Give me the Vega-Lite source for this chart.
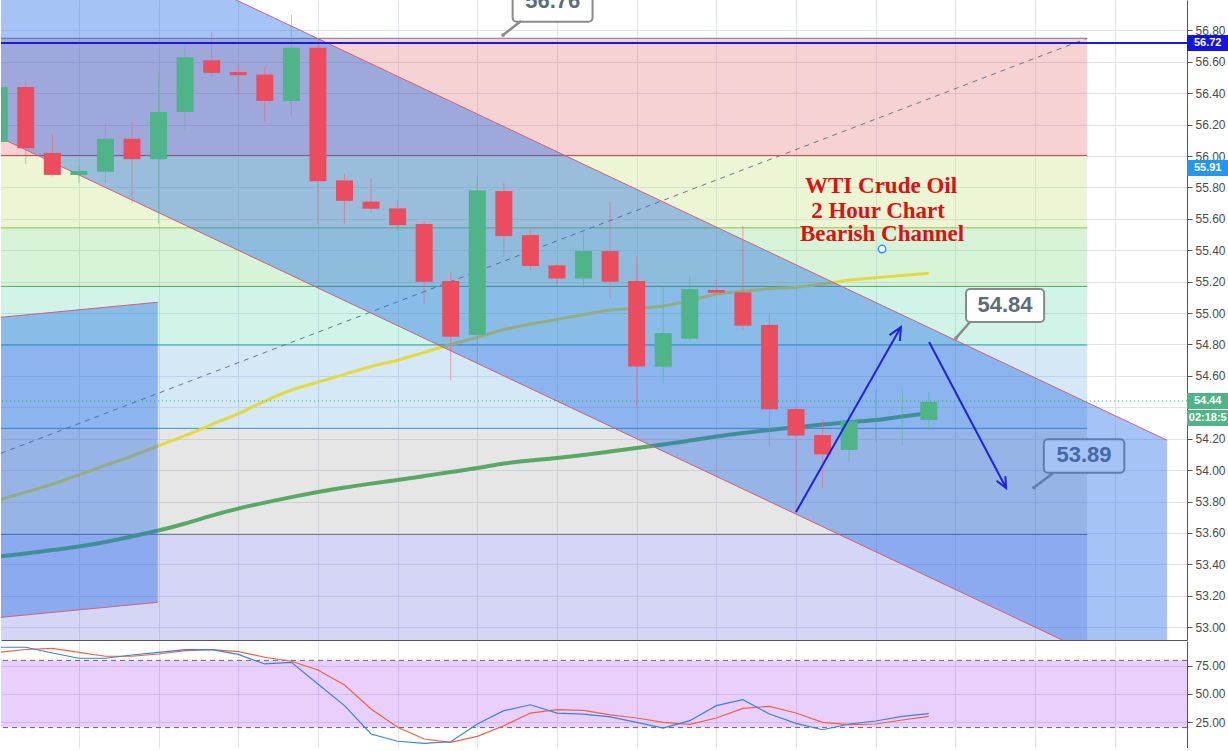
{
  "$schema": "https://vega.github.io/schema/vega-lite/v6.json",
  "background": "white",
  "padding": 0,
  "spacing": 1,
  "config": {
    "view": {"stroke": null},
    "axisX": {"labels": false, "ticks": false, "domain": true, "domainColor": "#555", "grid": true, "gridColor": "#e0e3ea"},
    "axisY": {"labelFont": "Liberation Sans", "labelFontSize": 12, "labelColor": "#4a4a4a", "tickColor": "#555", "tickSize": 5, "domainColor": "#555", "labelPadding": 3, "grid": true, "gridColor": "#e0e3ea", "labelExpr": "datum.value == 54.4 ? '' : datum.label"}
  },
  "resolve": {"scale": {"x": "independent", "y": "independent"}},
  "datasets": {
    "candles": [
      {"i":0,"o":56.09,"h":56.46,"l":56.07,"c":56.44},
      {"i":1,"o":56.44,"h":56.48,"l":55.95,"c":56.05},
      {"i":2,"o":56.02,"h":56.14,"l":55.87,"c":55.88},
      {"i":3,"o":55.88,"h":55.94,"l":55.83,"c":55.905},
      {"i":4,"o":55.9,"h":56.21,"l":55.83,"c":56.11},
      {"i":5,"o":56.11,"h":56.22,"l":55.7,"c":55.98},
      {"i":6,"o":55.98,"h":56.53,"l":55.57,"c":56.28},
      {"i":7,"o":56.28,"h":56.72,"l":56.16,"c":56.63},
      {"i":8,"o":56.61,"h":56.79,"l":56.5,"c":56.53},
      {"i":9,"o":56.535,"h":56.58,"l":56.39,"c":56.515},
      {"i":10,"o":56.52,"h":56.57,"l":56.22,"c":56.35},
      {"i":11,"o":56.35,"h":56.9,"l":56.25,"c":56.69},
      {"i":12,"o":56.69,"h":56.74,"l":55.57,"c":55.84},
      {"i":13,"o":55.845,"h":55.89,"l":55.57,"c":55.715},
      {"i":14,"o":55.71,"h":55.86,"l":55.64,"c":55.665},
      {"i":15,"o":55.667,"h":55.72,"l":55.53,"c":55.56},
      {"i":16,"o":55.567,"h":55.58,"l":55.06,"c":55.2},
      {"i":17,"o":55.204,"h":55.26,"l":54.57,"c":54.85},
      {"i":18,"o":54.86,"h":55.87,"l":54.68,"c":55.78},
      {"i":19,"o":55.777,"h":55.83,"l":55.36,"c":55.49},
      {"i":20,"o":55.497,"h":55.535,"l":55.27,"c":55.3},
      {"i":21,"o":55.304,"h":55.31,"l":55.17,"c":55.22},
      {"i":22,"o":55.22,"h":55.53,"l":55.16,"c":55.395},
      {"i":23,"o":55.395,"h":55.71,"l":55.1,"c":55.2},
      {"i":24,"o":55.204,"h":55.36,"l":54.4,"c":54.66},
      {"i":25,"o":54.658,"h":55.17,"l":54.55,"c":54.873},
      {"i":26,"o":54.837,"h":55.24,"l":54.82,"c":55.153},
      {"i":27,"o":55.147,"h":55.21,"l":55.12,"c":55.13},
      {"i":28,"o":55.132,"h":55.555,"l":54.89,"c":54.92},
      {"i":29,"o":54.924,"h":55.0,"l":54.15,"c":54.387},
      {"i":30,"o":54.389,"h":54.4,"l":53.727,"c":54.22},
      {"i":31,"o":54.223,"h":54.323,"l":53.884,"c":54.1},
      {"i":32,"o":54.128,"h":54.393,"l":54.053,"c":54.314},
      {"i":33,"o":54.32,"h":54.51,"l":54.18,"c":54.32},
      {"i":34,"o":54.34,"h":54.52,"l":54.16,"c":54.34},
      {"i":35,"o":54.319,"h":54.5,"l":54.255,"c":54.435}
    ],
    "ma": [
      {"i":0,"a":53.81,"b":53.45},{"i":1,"a":53.86,"b":53.469},{"i":2,"a":53.91,"b":53.491},
      {"i":3,"a":53.97,"b":53.513},{"i":4,"a":54.03,"b":53.542},{"i":5,"a":54.09,"b":53.577},
      {"i":6,"a":54.155,"b":53.615},{"i":7,"a":54.22,"b":53.66},{"i":8,"a":54.29,"b":53.71},
      {"i":9,"a":54.36,"b":53.755},{"i":10,"a":54.44,"b":53.793},{"i":11,"a":54.51,"b":53.828},
      {"i":12,"a":54.56,"b":53.86},{"i":13,"a":54.61,"b":53.889},{"i":14,"a":54.66,"b":53.914},
      {"i":15,"a":54.7,"b":53.937},{"i":16,"a":54.75,"b":53.962},{"i":17,"a":54.8,"b":53.988},
      {"i":18,"a":54.845,"b":54.013},{"i":19,"a":54.895,"b":54.042},{"i":20,"a":54.93,"b":54.061},
      {"i":21,"a":54.96,"b":54.077},{"i":22,"a":54.99,"b":54.096},{"i":23,"a":55.02,"b":54.118},
      {"i":24,"a":55.03,"b":54.141},{"i":25,"a":55.045,"b":54.163},{"i":26,"a":55.08,"b":54.188},
      {"i":27,"a":55.12,"b":54.214},{"i":28,"a":55.14,"b":54.236},{"i":29,"a":55.155,"b":54.255},
      {"i":30,"a":55.165,"b":54.274},{"i":31,"a":55.185,"b":54.29},{"i":32,"a":55.21,"b":54.306},
      {"i":33,"a":55.225,"b":54.319},{"i":34,"a":55.24,"b":54.341},{"i":35,"a":55.253,"b":54.363}
    ],
    "stoch": [
      {"i":0,"k":91.7,"d":87.2},{"i":1,"k":91.7,"d":89.7},{"i":2,"k":86.6,"d":90.8},
      {"i":3,"k":81.9,"d":87.2},{"i":4,"k":81.9,"d":83.7},{"i":5,"k":84.8,"d":83.7},
      {"i":6,"k":87.2,"d":85.7},{"i":7,"k":89.6,"d":88.7},{"i":8,"k":89.6,"d":89.6},
      {"i":9,"k":85.3,"d":87.8},{"i":10,"k":76.8,"d":82.8},{"i":11,"k":78.3,"d":79.2},
      {"i":12,"k":58.9,"d":71.4},{"i":13,"k":39.6,"d":58.0},{"i":14,"k":14.3,"d":36.6},
      {"i":15,"k":7.8,"d":20.3},{"i":16,"k":6.0,"d":9.8},{"i":17,"k":7.4,"d":6.9},
      {"i":18,"k":23.2,"d":12.2},{"i":19,"k":35.1,"d":21.7},{"i":20,"k":40.4,"d":33.0},
      {"i":21,"k":33.0,"d":36.0},{"i":22,"k":32.1,"d":35.4},{"i":23,"k":29.5,"d":31.3},
      {"i":24,"k":24.7,"d":28.6},{"i":25,"k":19.6,"d":24.7},{"i":26,"k":26.2,"d":22.9},
      {"i":27,"k":39.6,"d":28.6},{"i":28,"k":44.9,"d":37.2},{"i":29,"k":32.1,"d":39.0},
      {"i":30,"k":23.8,"d":33.0},{"i":31,"k":18.1,"d":24.7},{"i":32,"k":23.2,"d":22.6},
      {"i":33,"k":25.9,"d":23.2},{"i":34,"k":30.1,"d":26.8},{"i":35,"k":32.4,"d":30.1}
    ],
    "zones": [
      {"z":"a","top":56.75,"bot":56.004},{"z":"b","top":56.004,"bot":55.543},
      {"z":"c","top":55.543,"bot":55.17},{"z":"d","top":55.17,"bot":54.797},
      {"z":"e","top":54.797,"bot":54.266},{"z":"f","top":54.266,"bot":53.59},
      {"z":"g","top":53.59,"bot":52.73}
    ],
    "levels": [
      {"z":"l0","v":56.75},{"z":"l1","v":56.004},{"z":"l2","v":55.543},{"z":"l3","v":55.17},
      {"z":"l4","v":54.797},{"z":"l5","v":54.266},{"z":"l6","v":53.59}
    ],
    "channel": [
      {"g":"main","i":-1,"up":57.788,"lo":56.2},
      {"g":"main","i":43.97,"up":54.19,"lo":52.602},
      {"g":"small","i":-1,"up":54.956,"lo":53.045},
      {"g":"small","i":5.97,"up":55.069,"lo":53.158}
    ],
    "trend": [{"i":0.068,"p":54.107},{"i":40.96,"p":56.75}],
    "arrows": [
      {"s":"a1","o":0,"i":30.0,"p":53.733},{"s":"a1","o":1,"i":33.95,"p":54.911},
      {"s":"h1","o":0,"i":33.52,"p":54.86},{"s":"h1","o":1,"i":33.95,"p":54.911},{"s":"h1","o":2,"i":33.91,"p":54.822},
      {"s":"a2","o":0,"i":35.01,"p":54.816},{"s":"a2","o":1,"i":37.91,"p":53.886},
      {"s":"h2","o":0,"i":37.88,"p":53.962},{"s":"h2","o":1,"i":37.91,"p":53.886},{"s":"h2","o":2,"i":37.55,"p":53.932}
    ],
    "boxes": [
      {"lbl":"56.76","i1":19.33,"i2":22.34,"p1":57.083,"p2":56.856},
      {"lbl":"54.84","i1":36.4,"i2":39.34,"p1":55.153,"p2":54.943},
      {"lbl":"53.89","i1":39.33,"i2":42.36,"p1":54.196,"p2":53.983}
    ],
    "tails": [
      {"lbl":"56.76","o":0,"i":19.65,"p":56.86},{"lbl":"56.76","o":1,"i":18.97,"p":56.771},
      {"lbl":"54.84","o":0,"i":36.55,"p":54.943},{"lbl":"54.84","o":1,"i":36.02,"p":54.841},
      {"lbl":"53.89","o":0,"i":39.68,"p":53.981},{"lbl":"53.89","o":1,"i":38.96,"p":53.89}
    ],
    "labels": [
      {"lbl":"56.76","i":20.84,"p":56.943},
      {"lbl":"54.84","i":37.87,"p":55.009},
      {"lbl":"53.89","i":40.84,"p":54.053}
    ],
    "notes": [
      {"t":"WTI Crude Oil","i":33.2,"p":55.809},
      {"t":"2 Hour Chart","i":33.09,"p":55.65},
      {"t":"Bearish Channel","i":33.24,"p":55.502}
    ],
    "tags": [
      {"t":"56.72","i1":44.72,"i2":46.3,"p1":56.771,"p2":56.669,"ic":45.5,"pc":56.72},
      {"t":"55.91","i1":44.72,"i2":46.3,"p1":55.975,"p2":55.873,"ic":45.5,"pc":55.924},
      {"t":"54.44","i1":44.72,"i2":46.3,"p1":54.491,"p2":54.389,"ic":45.5,"pc":54.44},
      {"t":"02:18:5","i1":44.72,"i2":46.3,"p1":54.383,"p2":54.281,"ic":45.5,"pc":54.332}
    ]
  },
  "vconcat": [
    {
      "width": 1186,
      "height": 640,
      "resolve": {"scale": {"fill": "independent", "stroke": "independent", "color": "independent"}},
      "layer": [
        {
          "data": {"name": "zones"},
          "mark": {"type": "rect", "clip": true, "opacity": 0.25},
          "encoding": {
            "x": {"datum": -1, "type": "quantitative", "scale": {"domain": [0.068, 44.72], "padding": 0}, "axis": {"values": [3,6,9,12,15,18,21,24,27,30,33,36,39,42], "title": null}},
            "x2": {"datum": 40.96},
            "y": {"field": "top", "type": "quantitative", "scale": {"domain": [52.918, 56.994], "padding": 0}, "axis": {"orient": "right", "values": [53,53.2,53.4,53.6,53.8,54,54.2,54.4,54.6,54.8,55,55.2,55.4,55.6,55.8,56,56.2,56.4,56.6,56.8], "format": ".2f", "title": null}},
            "y2": {"field": "bot"},
            "fill": {"field": "z", "type": "nominal", "legend": null,
              "scale": {"domain": ["a","b","c","d","e","f","g"], "range": ["#db4b4b","#b3db53","#63d363","#43d3a3","#57a3db","#9b9b9b","#5757d7"]}}
          }
        },
        {
          "data": {"name": "levels"},
          "mark": {"type": "rule", "clip": true, "strokeWidth": 1},
          "encoding": {
            "x": {"datum": -1, "type": "quantitative", "scale": {"domain": [0.068, 44.72], "padding": 0}, "axis": {"values": [3,6,9,12,15,18,21,24,27,30,33,36,39,42], "title": null}},
            "x2": {"datum": 40.96},
            "y": {"field": "v", "type": "quantitative", "scale": {"domain": [52.918, 56.994], "padding": 0}, "axis": {"orient": "right", "values": [53,53.2,53.4,53.6,53.8,54,54.2,54.4,54.6,54.8,55,55.2,55.4,55.6,55.8,56,56.2,56.4,56.6,56.8], "format": ".2f", "title": null}},
            "stroke": {"field": "z", "type": "nominal", "legend": null,
              "scale": {"domain": ["l0","l1","l2","l3","l4","l5","l6"], "range": ["#787b86","#d9404c","#8bc34a","#4caf50","#26a69a","#3f8fc0","#787b86"]}}
          }
        },
        {
          "data": {"name": "trend"},
          "mark": {"type": "line", "clip": true, "strokeDash": [5, 5], "strokeWidth": 1, "color": "#6b7785"},
          "encoding": {
            "x": {"field": "i", "type": "quantitative", "scale": {"domain": [0.068, 44.72], "padding": 0}, "axis": {"values": [3,6,9,12,15,18,21,24,27,30,33,36,39,42], "title": null}},
            "y": {"field": "p", "type": "quantitative", "scale": {"domain": [52.918, 56.994], "padding": 0}, "axis": {"orient": "right", "values": [53,53.2,53.4,53.6,53.8,54,54.2,54.4,54.6,54.8,55,55.2,55.4,55.6,55.8,56,56.2,56.4,56.6,56.8], "format": ".2f", "title": null}}
          }
        },
        {
          "data": {"name": "ma"},
          "mark": {"type": "line", "clip": true, "strokeWidth": 3, "color": "#e3da3c", "interpolate": "monotone"},
          "encoding": {
            "x": {"field": "i", "type": "quantitative", "scale": {"domain": [0.068, 44.72], "padding": 0}, "axis": {"values": [3,6,9,12,15,18,21,24,27,30,33,36,39,42], "title": null}},
            "y": {"field": "a", "type": "quantitative", "scale": {"domain": [52.918, 56.994], "padding": 0}, "axis": {"orient": "right", "values": [53,53.2,53.4,53.6,53.8,54,54.2,54.4,54.6,54.8,55,55.2,55.4,55.6,55.8,56,56.2,56.4,56.6,56.8], "format": ".2f", "title": null}}
          }
        },
        {
          "data": {"name": "ma"},
          "mark": {"type": "line", "clip": true, "strokeWidth": 4, "color": "#58a964", "interpolate": "monotone"},
          "encoding": {
            "x": {"field": "i", "type": "quantitative", "scale": {"domain": [0.068, 44.72], "padding": 0}, "axis": {"values": [3,6,9,12,15,18,21,24,27,30,33,36,39,42], "title": null}},
            "y": {"field": "b", "type": "quantitative", "scale": {"domain": [52.918, 56.994], "padding": 0}, "axis": {"orient": "right", "values": [53,53.2,53.4,53.6,53.8,54,54.2,54.4,54.6,54.8,55,55.2,55.4,55.6,55.8,56,56.2,56.4,56.6,56.8], "format": ".2f", "title": null}}
          }
        },
        {
          "data": {"name": "boxes"},
          "mark": {"type": "rect", "clip": true, "fill": "white", "stroke": "#8a8a8a", "strokeWidth": 2, "cornerRadius": 4},
          "encoding": {
            "x": {"field": "i1", "type": "quantitative", "scale": {"domain": [0.068, 44.72], "padding": 0}, "axis": {"values": [3,6,9,12,15,18,21,24,27,30,33,36,39,42], "title": null}},
            "x2": {"field": "i2"},
            "y": {"field": "p1", "type": "quantitative", "scale": {"domain": [52.918, 56.994], "padding": 0}, "axis": {"orient": "right", "values": [53,53.2,53.4,53.6,53.8,54,54.2,54.4,54.6,54.8,55,55.2,55.4,55.6,55.8,56,56.2,56.4,56.6,56.8], "format": ".2f", "title": null}},
            "y2": {"field": "p2"}
          }
        },
        {
          "data": {"name": "tails"},
          "mark": {"type": "line", "clip": true, "strokeWidth": 2.5, "color": "#8a8a8a"},
          "encoding": {
            "x": {"field": "i", "type": "quantitative", "scale": {"domain": [0.068, 44.72], "padding": 0}, "axis": {"values": [3,6,9,12,15,18,21,24,27,30,33,36,39,42], "title": null}},
            "y": {"field": "p", "type": "quantitative", "scale": {"domain": [52.918, 56.994], "padding": 0}, "axis": {"orient": "right", "values": [53,53.2,53.4,53.6,53.8,54,54.2,54.4,54.6,54.8,55,55.2,55.4,55.6,55.8,56,56.2,56.4,56.6,56.8], "format": ".2f", "title": null}},
            "detail": {"field": "lbl"},
            "order": {"field": "o"}
          }
        },
        {
          "data": {"name": "tails"},
          "transform": [{"filter": "datum.o == 1"}],
          "mark": {"type": "point", "clip": true, "filled": true, "size": 14, "color": "#8a8a8a", "opacity": 1},
          "encoding": {
            "x": {"field": "i", "type": "quantitative", "scale": {"domain": [0.068, 44.72], "padding": 0}, "axis": {"values": [3,6,9,12,15,18,21,24,27,30,33,36,39,42], "title": null}},
            "y": {"field": "p", "type": "quantitative", "scale": {"domain": [52.918, 56.994], "padding": 0}, "axis": {"orient": "right", "values": [53,53.2,53.4,53.6,53.8,54,54.2,54.4,54.6,54.8,55,55.2,55.4,55.6,55.8,56,56.2,56.4,56.6,56.8], "format": ".2f", "title": null}}
          }
        },
        {
          "data": {"name": "labels"},
          "mark": {"type": "text", "clip": true, "font": "Liberation Sans", "fontWeight": "bold", "fontSize": 22, "color": "#5d6c7b", "align": "center", "baseline": "alphabetic"},
          "encoding": {
            "x": {"field": "i", "type": "quantitative", "scale": {"domain": [0.068, 44.72], "padding": 0}, "axis": {"values": [3,6,9,12,15,18,21,24,27,30,33,36,39,42], "title": null}},
            "y": {"field": "p", "type": "quantitative", "scale": {"domain": [52.918, 56.994], "padding": 0}, "axis": {"orient": "right", "values": [53,53.2,53.4,53.6,53.8,54,54.2,54.4,54.6,54.8,55,55.2,55.4,55.6,55.8,56,56.2,56.4,56.6,56.8], "format": ".2f", "title": null}},
            "text": {"field": "lbl"}
          }
        },
        {
          "data": {"name": "channel"},
          "mark": {"type": "area", "clip": true, "color": "#1e69e6", "opacity": 0.4},
          "encoding": {
            "x": {"field": "i", "type": "quantitative", "scale": {"domain": [0.068, 44.72], "padding": 0}, "axis": {"values": [3,6,9,12,15,18,21,24,27,30,33,36,39,42], "title": null}},
            "y": {"field": "up", "type": "quantitative", "scale": {"domain": [52.918, 56.994], "padding": 0}, "axis": {"orient": "right", "values": [53,53.2,53.4,53.6,53.8,54,54.2,54.4,54.6,54.8,55,55.2,55.4,55.6,55.8,56,56.2,56.4,56.6,56.8], "format": ".2f", "title": null}},
            "y2": {"field": "lo"},
            "detail": {"field": "g"}
          }
        },
        {
          "data": {"name": "channel"},
          "mark": {"type": "line", "clip": true, "strokeWidth": 1, "color": "#cf5f7c"},
          "encoding": {
            "x": {"field": "i", "type": "quantitative", "scale": {"domain": [0.068, 44.72], "padding": 0}, "axis": {"values": [3,6,9,12,15,18,21,24,27,30,33,36,39,42], "title": null}},
            "y": {"field": "up", "type": "quantitative", "scale": {"domain": [52.918, 56.994], "padding": 0}, "axis": {"orient": "right", "values": [53,53.2,53.4,53.6,53.8,54,54.2,54.4,54.6,54.8,55,55.2,55.4,55.6,55.8,56,56.2,56.4,56.6,56.8], "format": ".2f", "title": null}},
            "detail": {"field": "g"}
          }
        },
        {
          "data": {"name": "channel"},
          "mark": {"type": "line", "clip": true, "strokeWidth": 1, "color": "#cf5f7c"},
          "encoding": {
            "x": {"field": "i", "type": "quantitative", "scale": {"domain": [0.068, 44.72], "padding": 0}, "axis": {"values": [3,6,9,12,15,18,21,24,27,30,33,36,39,42], "title": null}},
            "y": {"field": "lo", "type": "quantitative", "scale": {"domain": [52.918, 56.994], "padding": 0}, "axis": {"orient": "right", "values": [53,53.2,53.4,53.6,53.8,54,54.2,54.4,54.6,54.8,55,55.2,55.4,55.6,55.8,56,56.2,56.4,56.6,56.8], "format": ".2f", "title": null}},
            "detail": {"field": "g"}
          }
        },
        {
          "data": {"name": "candles"},
          "mark": {"type": "rule", "clip": true, "strokeWidth": 1, "opacity": 0.55},
          "encoding": {
            "x": {"field": "i", "type": "quantitative", "scale": {"domain": [0.068, 44.72], "padding": 0}, "axis": {"values": [3,6,9,12,15,18,21,24,27,30,33,36,39,42], "title": null}},
            "y": {"field": "l", "type": "quantitative", "scale": {"domain": [52.918, 56.994], "padding": 0}, "axis": {"orient": "right", "values": [53,53.2,53.4,53.6,53.8,54,54.2,54.4,54.6,54.8,55,55.2,55.4,55.6,55.8,56,56.2,56.4,56.6,56.8], "format": ".2f", "title": null}},
            "y2": {"field": "h"},
            "color": {"condition": {"test": "datum.c >= datum.o", "value": "#4fb487"}, "value": "#ee6270"}
          }
        },
        {
          "data": {"name": "candles"},
          "mark": {"type": "bar", "clip": true, "size": 17},
          "encoding": {
            "x": {"field": "i", "type": "quantitative", "scale": {"domain": [0.068, 44.72], "padding": 0}, "axis": {"values": [3,6,9,12,15,18,21,24,27,30,33,36,39,42], "title": null}},
            "y": {"field": "o", "type": "quantitative", "scale": {"domain": [52.918, 56.994], "padding": 0}, "axis": {"orient": "right", "values": [53,53.2,53.4,53.6,53.8,54,54.2,54.4,54.6,54.8,55,55.2,55.4,55.6,55.8,56,56.2,56.4,56.6,56.8], "format": ".2f", "title": null}},
            "y2": {"field": "c"},
            "color": {"condition": {"test": "datum.c >= datum.o", "value": "#4fb487"}, "value": "#ec4d5e"}
          }
        },
        {
          "data": {"values": [{"v": 56.72}]},
          "mark": {"type": "rule", "color": "#1a1ae6", "strokeWidth": 2},
          "encoding": {
            "y": {"field": "v", "type": "quantitative", "scale": {"domain": [52.918, 56.994], "padding": 0}, "axis": {"orient": "right", "values": [53,53.2,53.4,53.6,53.8,54,54.2,54.4,54.6,54.8,55,55.2,55.4,55.6,55.8,56,56.2,56.4,56.6,56.8], "format": ".2f", "title": null}}
          }
        },
        {
          "data": {"values": [{"v": 54.44}]},
          "mark": {"type": "rule", "color": "#3fa37a", "strokeWidth": 1, "strokeDash": [1, 3]},
          "encoding": {
            "y": {"field": "v", "type": "quantitative", "scale": {"domain": [52.918, 56.994], "padding": 0}, "axis": {"orient": "right", "values": [53,53.2,53.4,53.6,53.8,54,54.2,54.4,54.6,54.8,55,55.2,55.4,55.6,55.8,56,56.2,56.4,56.6,56.8], "format": ".2f", "title": null}}
          }
        },
        {
          "data": {"name": "arrows"},
          "mark": {"type": "line", "clip": true, "strokeWidth": 2, "color": "#1f22e0"},
          "encoding": {
            "x": {"field": "i", "type": "quantitative", "scale": {"domain": [0.068, 44.72], "padding": 0}, "axis": {"values": [3,6,9,12,15,18,21,24,27,30,33,36,39,42], "title": null}},
            "y": {"field": "p", "type": "quantitative", "scale": {"domain": [52.918, 56.994], "padding": 0}, "axis": {"orient": "right", "values": [53,53.2,53.4,53.6,53.8,54,54.2,54.4,54.6,54.8,55,55.2,55.4,55.6,55.8,56,56.2,56.4,56.6,56.8], "format": ".2f", "title": null}},
            "detail": {"field": "s"},
            "order": {"field": "o"}
          }
        },
        {
          "data": {"name": "notes"},
          "mark": {"type": "text", "clip": true, "font": "Liberation Serif", "fontWeight": "bold", "fontSize": 23, "color": "#e01010", "align": "center", "baseline": "middle"},
          "encoding": {
            "x": {"field": "i", "type": "quantitative", "scale": {"domain": [0.068, 44.72], "padding": 0}, "axis": {"values": [3,6,9,12,15,18,21,24,27,30,33,36,39,42], "title": null}},
            "y": {"field": "p", "type": "quantitative", "scale": {"domain": [52.918, 56.994], "padding": 0}, "axis": {"orient": "right", "values": [53,53.2,53.4,53.6,53.8,54,54.2,54.4,54.6,54.8,55,55.2,55.4,55.6,55.8,56,56.2,56.4,56.6,56.8], "format": ".2f", "title": null}},
            "text": {"field": "t"}
          }
        },
        {
          "data": {"values": [{"i": 33.24, "p": 55.408}]},
          "mark": {"type": "point", "shape": "circle", "size": 55, "filled": true, "fill": "white", "stroke": "#2196f3", "strokeWidth": 1.5, "opacity": 1},
          "encoding": {
            "x": {"field": "i", "type": "quantitative", "scale": {"domain": [0.068, 44.72], "padding": 0}, "axis": {"values": [3,6,9,12,15,18,21,24,27,30,33,36,39,42], "title": null}},
            "y": {"field": "p", "type": "quantitative", "scale": {"domain": [52.918, 56.994], "padding": 0}, "axis": {"orient": "right", "values": [53,53.2,53.4,53.6,53.8,54,54.2,54.4,54.6,54.8,55,55.2,55.4,55.6,55.8,56,56.2,56.4,56.6,56.8], "format": ".2f", "title": null}}
          }
        },
        {
          "data": {"name": "tags"},
          "mark": {"type": "rect", "clip": false},
          "encoding": {
            "x": {"field": "i1", "type": "quantitative", "scale": {"domain": [0.068, 44.72], "padding": 0}, "axis": {"values": [3,6,9,12,15,18,21,24,27,30,33,36,39,42], "title": null}},
            "x2": {"field": "i2"},
            "y": {"field": "p1", "type": "quantitative", "scale": {"domain": [52.918, 56.994], "padding": 0}, "axis": {"orient": "right", "values": [53,53.2,53.4,53.6,53.8,54,54.2,54.4,54.6,54.8,55,55.2,55.4,55.6,55.8,56,56.2,56.4,56.6,56.8], "format": ".2f", "title": null}},
            "y2": {"field": "p2"},
            "fill": {"field": "t", "type": "nominal", "legend": null,
              "scale": {"domain": ["56.72","55.91","54.44","02:18:5"], "range": ["#1414e0","#2196f3","#4fb487","#4fb487"]}}
          }
        },
        {
          "data": {"name": "tags"},
          "mark": {"type": "text", "clip": false, "font": "Liberation Sans", "fontWeight": "bold", "fontSize": 11, "color": "white", "align": "center", "baseline": "middle"},
          "encoding": {
            "x": {"field": "ic", "type": "quantitative", "scale": {"domain": [0.068, 44.72], "padding": 0}, "axis": {"values": [3,6,9,12,15,18,21,24,27,30,33,36,39,42], "title": null}},
            "y": {"field": "pc", "type": "quantitative", "scale": {"domain": [52.918, 56.994], "padding": 0}, "axis": {"orient": "right", "values": [53,53.2,53.4,53.6,53.8,54,54.2,54.4,54.6,54.8,55,55.2,55.4,55.6,55.8,56,56.2,56.4,56.6,56.8], "format": ".2f", "title": null}},
            "text": {"field": "t"}
          }
        }
      ]
    },
    {
      "width": 1186,
      "height": 107,
      "layer": [
        {
          "data": {"values": [{"a": 20, "b": 80}]},
          "mark": {"type": "rect", "color": "#9c27f0", "opacity": 0.22},
          "encoding": {
            "y": {"field": "a", "type": "quantitative", "scale": {"domain": [1.8, 97.3], "padding": 0}, "axis": {"orient": "right", "values": [25, 50, 75], "format": ".2f", "title": null}},
            "y2": {"field": "b"}
          }
        },
        {
          "data": {"values": [{"v": 20}, {"v": 80}]},
          "mark": {"type": "rule", "color": "#666", "strokeDash": [5, 4], "strokeWidth": 1},
          "encoding": {
            "y": {"field": "v", "type": "quantitative", "scale": {"domain": [1.8, 97.3], "padding": 0}, "axis": {"orient": "right", "values": [25, 50, 75], "format": ".2f", "title": null}}
          }
        },
        {
          "data": {"name": "stoch"},
          "mark": {"type": "line", "clip": true, "strokeWidth": 1.2, "color": "#f2613f"},
          "encoding": {
            "x": {"field": "i", "type": "quantitative", "scale": {"domain": [0.068, 44.72], "padding": 0}, "axis": {"values": [3,6,9,12,15,18,21,24,27,30,33,36,39,42], "title": null}},
            "y": {"field": "d", "type": "quantitative", "scale": {"domain": [1.8, 97.3], "padding": 0}, "axis": {"orient": "right", "values": [25, 50, 75], "format": ".2f", "title": null}}
          }
        },
        {
          "data": {"name": "stoch"},
          "mark": {"type": "line", "clip": true, "strokeWidth": 1.2, "color": "#3a80e6"},
          "encoding": {
            "x": {"field": "i", "type": "quantitative", "scale": {"domain": [0.068, 44.72], "padding": 0}, "axis": {"values": [3,6,9,12,15,18,21,24,27,30,33,36,39,42], "title": null}},
            "y": {"field": "k", "type": "quantitative", "scale": {"domain": [1.8, 97.3], "padding": 0}, "axis": {"orient": "right", "values": [25, 50, 75], "format": ".2f", "title": null}}
          }
        }
      ]
    }
  ]
}
